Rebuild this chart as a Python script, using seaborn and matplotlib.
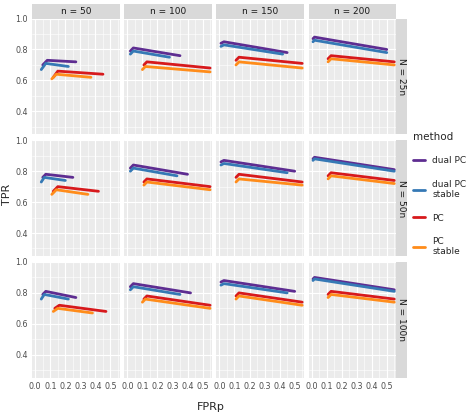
import matplotlib
matplotlib.use("Agg")
import matplotlib.pyplot as plt
import seaborn as sns
import pandas as pd
from matplotlib.patches import Rectangle
from matplotlib.lines import Line2D

ns = ["n = 50", "n = 100", "n = 150", "n = 200"]
Ns = ["N = 25n", "N = 50n", "N = 100n"]
methods = ["dual PC", "dual PC\nstable", "PC", "PC\nstable"]
colors = ["#5E2D91", "#3579B5", "#D7191C", "#FF8C1A"]

# per row, per column, per method: (x0,y0),(x1,y1),(x2,y2)
curves = {
 (0,0): [[(0.05,0.70),(0.08,0.73),(0.27,0.72)],[(0.04,0.67),(0.07,0.71),(0.22,0.69)],[(0.12,0.62),(0.15,0.66),(0.45,0.64)],[(0.11,0.61),(0.14,0.64),(0.37,0.62)]],
 (0,1): [[(0.02,0.79),(0.04,0.81),(0.35,0.76)],[(0.02,0.77),(0.04,0.79),(0.28,0.75)],[(0.11,0.70),(0.13,0.72),(0.55,0.68)],[(0.10,0.67),(0.12,0.69),(0.55,0.655)]],
 (0,2): [[(0.01,0.84),(0.03,0.85),(0.45,0.78)],[(0.01,0.82),(0.03,0.83),(0.42,0.77)],[(0.11,0.73),(0.13,0.75),(0.55,0.71)],[(0.11,0.70),(0.13,0.72),(0.55,0.68)]],
 (0,3): [[(0.01,0.87),(0.02,0.88),(0.50,0.80)],[(0.01,0.85),(0.02,0.86),(0.50,0.78)],[(0.11,0.74),(0.13,0.76),(0.55,0.72)],[(0.11,0.72),(0.13,0.74),(0.55,0.70)]],
 (1,0): [[(0.05,0.76),(0.07,0.78),(0.25,0.76)],[(0.04,0.73),(0.06,0.76),(0.20,0.74)],[(0.12,0.67),(0.15,0.70),(0.42,0.67)],[(0.11,0.65),(0.14,0.68),(0.35,0.65)]],
 (1,1): [[(0.02,0.82),(0.04,0.84),(0.40,0.78)],[(0.02,0.80),(0.04,0.82),(0.33,0.77)],[(0.11,0.73),(0.13,0.75),(0.55,0.70)],[(0.11,0.71),(0.13,0.73),(0.55,0.68)]],
 (1,2): [[(0.01,0.86),(0.03,0.87),(0.50,0.80)],[(0.01,0.84),(0.03,0.85),(0.45,0.79)],[(0.11,0.76),(0.13,0.78),(0.55,0.73)],[(0.11,0.73),(0.13,0.75),(0.55,0.71)]],
 (1,3): [[(0.01,0.88),(0.02,0.89),(0.55,0.81)],[(0.01,0.87),(0.02,0.88),(0.55,0.80)],[(0.11,0.77),(0.13,0.79),(0.55,0.74)],[(0.11,0.75),(0.13,0.77),(0.55,0.72)]],
 (2,0): [[(0.05,0.79),(0.07,0.81),(0.27,0.77)],[(0.04,0.76),(0.06,0.79),(0.22,0.76)],[(0.13,0.70),(0.16,0.72),(0.47,0.68)],[(0.12,0.68),(0.15,0.70),(0.38,0.67)]],
 (2,1): [[(0.02,0.84),(0.04,0.86),(0.42,0.80)],[(0.02,0.82),(0.04,0.84),(0.35,0.79)],[(0.11,0.76),(0.13,0.78),(0.55,0.72)],[(0.10,0.74),(0.12,0.76),(0.55,0.70)]],
 (2,2): [[(0.01,0.87),(0.03,0.88),(0.50,0.81)],[(0.01,0.85),(0.03,0.86),(0.45,0.80)],[(0.11,0.78),(0.13,0.80),(0.55,0.74)],[(0.11,0.76),(0.13,0.78),(0.55,0.72)]],
 (2,3): [[(0.01,0.89),(0.02,0.90),(0.55,0.82)],[(0.01,0.88),(0.02,0.89),(0.55,0.81)],[(0.11,0.79),(0.13,0.81),(0.55,0.76)],[(0.11,0.77),(0.13,0.79),(0.55,0.74)]],
}

rows = []
for (r, c), lst in curves.items():
    for m, pts in zip(methods, lst):
        for i, (x, y) in enumerate(pts):
            rows.append(dict(r=r, c=c, method=m, i=i, FPRp=x, TPR=y))
df = pd.DataFrame(rows)

sns.set_theme(style="darkgrid", rc={"axes.facecolor": "#EBEBEB", "grid.color": "white"})
plt.rcParams["font.family"] = ["DejaVu Sans"]
fig, axes = plt.subplots(3, 4, figsize=(4.74, 4.13), dpi=100, sharex=True, sharey=True)
fig.subplots_adjust(left=0.068, right=0.835, top=0.955, bottom=0.085, wspace=0.055, hspace=0.05)
pal = dict(zip(methods, colors))
for r in range(3):
    for c in range(4):
        ax = axes[r, c]
        sub = df[(df.r == r) & (df.c == c)]
        sns.lineplot(data=sub, x="FPRp", y="TPR", hue="method", units="method", estimator=None,
                     sort=False, palette=pal, lw=2, ax=ax, legend=False)
        ax.set_xlim(-0.02, 0.56)
        ax.set_ylim(0.25, 1.0)
        ax.set_xticks([0, 0.1, 0.2, 0.3, 0.4, 0.5])
        ax.set_yticks([0.4, 0.6, 0.8, 1.0])
        ax.set_xticks([0.05, 0.15, 0.25, 0.35, 0.45, 0.55], minor=True)
        ax.set_yticks([0.3, 0.5, 0.7, 0.9], minor=True)
        ax.grid(which="major", lw=0.8, color="white")
        ax.grid(which="minor", lw=0.4, color="white")
        ax.set_xlabel(""); ax.set_ylabel("")
        ax.tick_params(labelsize=5.8, length=2, pad=1, colors="#4D4D4D", which="major")
        ax.tick_params(which="minor", length=0)
        ax.xaxis.set_major_formatter(matplotlib.ticker.FormatStrFormatter("%.1f"))
        ax.yaxis.set_major_formatter(matplotlib.ticker.FormatStrFormatter("%.1f"))
        for s in ax.spines.values():
            s.set_visible(False)
        if r == 0:
            ax.add_patch(Rectangle((0, 1.0), 1, 0.13, transform=ax.transAxes, clip_on=False,
                                   facecolor="#D9D9D9", edgecolor="none"))
            ax.text(0.5, 1.065, ns[c], transform=ax.transAxes, ha="center", va="center",
                    fontsize=6.5, color="#1A1A1A")
        if c == 3:
            ax.add_patch(Rectangle((1.0, 0), 0.13, 1, transform=ax.transAxes, clip_on=False,
                                   facecolor="#D9D9D9", edgecolor="none"))
            ax.text(1.065, 0.5, Ns[r], transform=ax.transAxes, ha="center", va="center",
                    rotation=-90, fontsize=6.5, color="#1A1A1A")
fig.text(0.445, 0.008, "FPRp", ha="center", fontsize=8)
fig.text(0.004, 0.53, "TPR", rotation=90, va="center", fontsize=8)
handles = [Line2D([], [], color=col, lw=2) for col in colors]
leg = fig.legend(handles, methods, title="method", loc="center left", bbox_to_anchor=(0.855, 0.53),
                 fontsize=6.5, title_fontsize=7.5, frameon=False, handlelength=1.3,
                 labelspacing=1.6, alignment="left")
fig.savefig("out.png", dpi=100)
